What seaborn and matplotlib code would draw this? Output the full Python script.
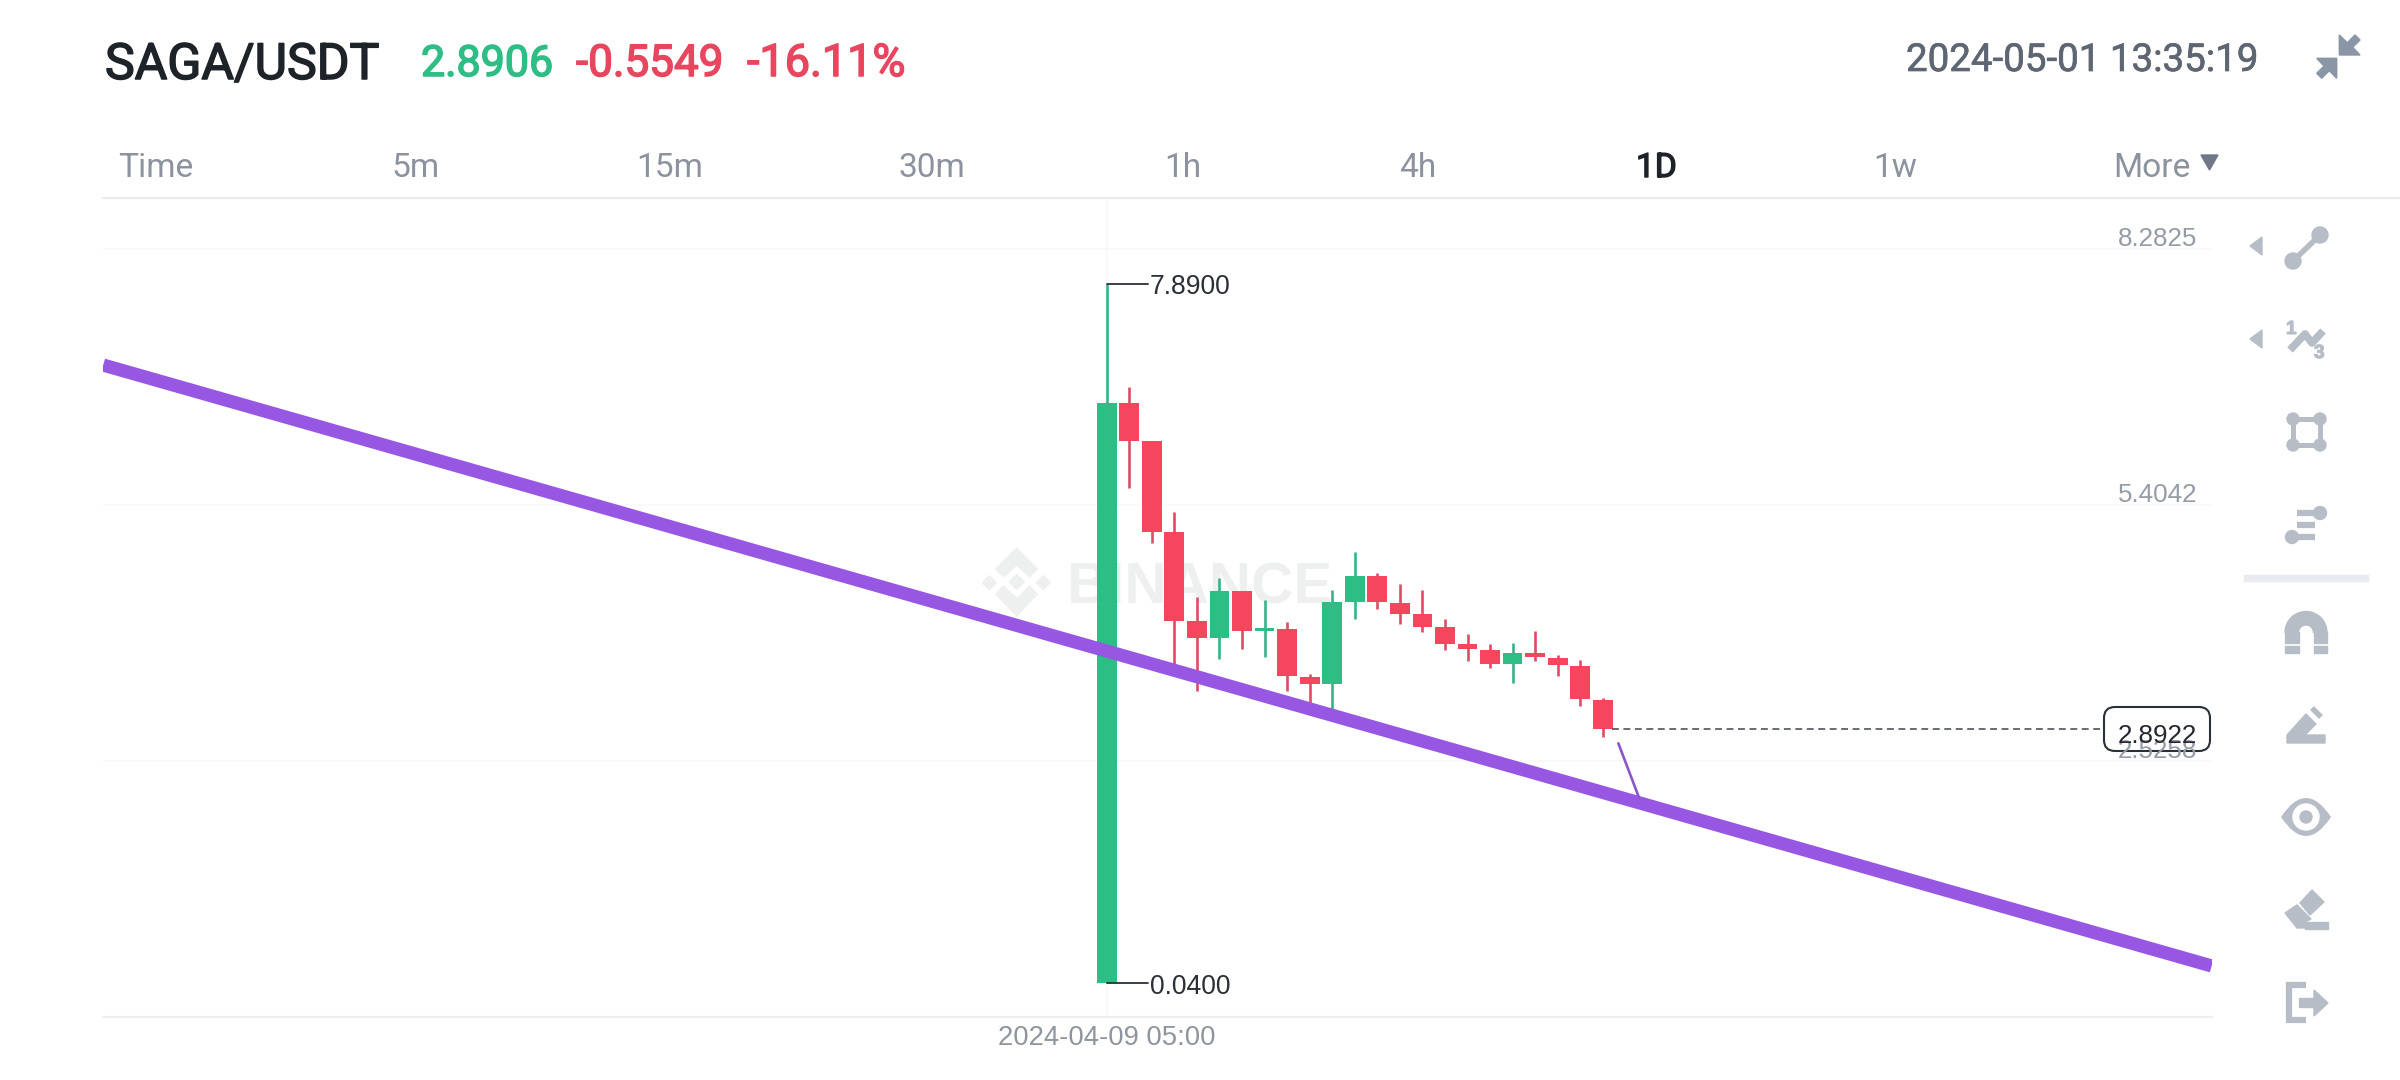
import matplotlib
matplotlib.use("Agg")
import matplotlib.patheffects as pe
import matplotlib.pyplot as plt
from matplotlib.patches import Circle, FancyBboxPatch, PathPatch, Polygon, Rectangle, Wedge
from matplotlib.path import Path
import pandas as pd
import seaborn as sns

# Candle data
opens = [0.04, 6.557, 6.13, 5.10, 4.104, 3.909, 4.441, 3.995, 4.018, 3.478, 3.392, 4.321,
         4.61, 4.310, 4.179, 4.033, 3.842, 3.778, 3.625, 3.741, 3.688, 3.602, 3.213]
closes = [6.557, 6.13, 5.10, 4.104, 3.909, 4.441, 3.995, 4.021, 3.482, 3.392, 4.314, 4.609,
          4.318, 4.187, 4.040, 3.846, 3.790, 3.625, 3.741, 3.696, 3.610, 3.224, 2.894]
highs = [7.89, 6.737, 6.13, 5.329, 4.377, 4.583, 4.441, 4.34, 4.089, 3.505, 4.452, 4.883,
         4.640, 4.516, 4.449, 4.123, 3.958, 3.846, 3.861, 3.996, 3.722, 3.662, 3.235]
lows = [0.04, 5.595, 4.976, 3.609, 3.321, 3.681, 3.785, 3.703, 3.321, 3.179, 3.104, 4.123,
        4.235, 4.067, 3.981, 3.775, 3.655, 3.580, 3.404, 3.658, 3.490, 3.153, 2.805]

# Drawn lines, as candle index and price
trend_x = [-44.5, 49.0]
trend_y = [6.98, 0.228]
stub_x = [22.69, 23.6]
stub_y = [2.73, 2.123]
last_x = [22.4, 44.2]
last_y = [2.8922, 2.8922]

grid_prices = [8.2825, 5.4042, 2.5258]
grid_labels = ["8.2825", "5.4042", "2.5258"]
tabs = ["Time", "5m", "15m", "30m", "1h", "4h", "1D", "1w", "More"]
tab_x = [118, 391, 636, 898, 1164, 1399, 1636, 1873, 2113]

GREEN = "#2EBD85"
RED = "#F6465D"
HEAD_RED = "#E8455F"
PURPLE = "#9757E3"
ICON = "#B7BDC6"
GREY = "#8C939F"
DARK = "#1E2329"
FAINT = "#F8F8F8"
WATERMARK = "#EEF0F0"


def px(size):
    # font sizes are worked out in image pixels
    return size * 0.72


sns.set_theme(style="white")
plt.rcParams["font.family"] = ["Liberation Sans", "DejaVu Sans"]

fig = plt.figure(figsize=(24, 10.8), dpi=100, facecolor="white")


def pixel_axes(zorder):
    # full size axes in image pixels, y pointing down
    a = fig.add_axes([0, 0, 1, 1], facecolor="none", zorder=zorder)
    a.set_xlim(0, 2400)
    a.set_ylim(1080, 0)
    a.axis("off")
    return a


back = pixel_axes(1)
ui = pixel_axes(5)

# price chart, scale taken from 7.89 at y=284 and 0.04 at y=983, candle pitch 22.55 px
ax = fig.add_axes([103 / 2400, 1 - 1017 / 1080, (2212 - 103) / 2400, (1017 - 198) / 1080],
                  facecolor="none", zorder=2)
ax.set_xlim((103 - 1106.7) / 22.55, (2212 - 1106.7) / 22.55)
ax.set_ylim(0.04 + (982.7 - 1017) / 89, 0.04 + (982.7 - 198) / 89)
ax.set_xticks([])
ax.set_yticks([])
sns.despine(ax=ax, left=True, bottom=True, top=True, right=True)

for price in grid_prices:
    ax.axhline(price, color=FAINT, lw=1.1, zorder=1)
ax.axvline(0, color=FAINT, lw=1.1, zorder=1)

df = pd.DataFrame({"open": opens, "close": closes, "high": highs, "low": lows})
df["idx"] = range(len(df))
df["up"] = df["close"] >= df["open"]
df["color"] = df["up"].map({True: GREEN, False: RED})
df["wick"] = df["up"].map({True: "#36B38A", False: "#E04C65"})

ax.vlines(df["idx"], df["low"], df["high"], colors=df["wick"], lw=1.9, zorder=3)
ax.bar(df["idx"], (df["close"] - df["open"]).abs(), bottom=df[["open", "close"]].min(axis=1),
       width=0.874, color=df["color"], linewidth=0, zorder=4)

sns.lineplot(x=last_x, y=last_y, ax=ax, color="#3F444D", lw=1.1, linestyle=(0, (4.5, 3)), zorder=5)
sns.lineplot(x=trend_x, y=trend_y, ax=ax, color=PURPLE, lw=9.5, solid_capstyle="butt", zorder=6)
sns.lineplot(x=stub_x, y=stub_y, ax=ax, color="#8A56C9", lw=1.9, zorder=6)


def text(x, y, s, size, color, font="Liberation Sans", ha="left", weight="normal", stroke=0, target=None):
    t = (target or ui).text(x, y, s, fontsize=px(size), color=color, family=font, ha=ha, va="baseline",
                            weight=weight, zorder=10)
    if stroke:
        t.set_path_effects([pe.withStroke(linewidth=stroke, foreground=color)])


def price_y(price):
    return 982.7 - (price - 0.04) * 89


# watermark, under the candles
text(1066, 603, "BINANCE", 58.5, WATERMARK, weight="bold", target=back)
for cx, cy, r in [(1016.7, 582, 7.5), (989.3, 582.7, 7), (1043.3, 582.7, 7)]:
    back.add_patch(Polygon([(cx - r, cy), (cx, cy - r), (cx + r, cy), (cx, cy + r)], color=WATERMARK))
back.add_patch(Polygon([(1016.7, 548.3), (1037.3, 569), (1029.5, 577), (1016.7, 565), (1003.5, 577), (995.7, 569)],
                       color=WATERMARK))
back.add_patch(Polygon([(1016.7, 616), (1037.3, 594), (1029.5, 586), (1016.7, 598.5), (1003.5, 586), (995.7, 594)],
                       color=WATERMARK))

# header
text(105, 79, "SAGA/USDT", 50, DARK, font="Roboto", stroke=1.1)
text(421, 76, "2.8906", 43, GREEN, font="Roboto", stroke=1.1)
text(576, 76, "-0.5549", 44, HEAD_RED, font="Roboto", stroke=1.1)
text(747, 76, "-16.11%", 45, HEAD_RED, font="Roboto", stroke=1.1)
text(1906, 71, "2024-05-01 13:35:19", 38.5, "#5E6673", font="Roboto", stroke=0.5)
ui.add_patch(Polygon([(2339.3, 35), (2339.3, 55), (2360, 55), (2352.7, 47.3), (2360, 40), (2355, 35), (2347.3, 42.7)],
                     color="#8896A6"))
ui.add_patch(Polygon([(2316.7, 58.3), (2336.7, 58.3), (2336.7, 78.3), (2329.3, 70.7), (2321.7, 78.3), (2316.7, 73.3),
                      (2324, 66)], color="#8896A6"))

# interval tabs
for x, label in zip(tab_x, tabs):
    if label == "1D":
        text(x, 177, label, 33.5, DARK, font="Roboto", stroke=1.0)
    else:
        text(x, 177, label, 33.5, GREY, font="Roboto")
ui.add_patch(Polygon([(2201, 155), (2218, 155), (2209.5, 170)], color="#6F7886"))
ui.plot([103, 2400], [197.5, 197.5], color="#EAECEF", lw=1.6)
ui.plot([103, 2212], [1017, 1017], color="#EFEFF1", lw=1.6)

# price labels
for price, label in zip(grid_prices, grid_labels):
    text(2197, price_y(price) - 3.5, label, 26, "#969CA6", ha="right")

text(1150, 294, "7.8900", 26.5, "#2B2F36")
text(1150, 994, "0.0400", 26.5, "#2B2F36")
ui.plot([1107, 1148], [284, 284], color="#2B2F36", lw=1.3)
ui.plot([1107, 1148], [983, 983], color="#2B2F36", lw=1.3)
text(998, 1045, "2024-04-09 05:00", 27.5, "#8F959E")

box = FancyBboxPatch((2104, 707), 106, 44, boxstyle="round,pad=0,rounding_size=11",
                     fc="white", ec="#2B2F36", lw=1.5, zorder=8)
ui.add_patch(box)
text(2197, 743, "2.8922", 26, "#23272E", ha="right")

# toolbar icons
for y in (246, 339):
    ui.add_patch(Polygon([(2250, y), (2262, y - 9), (2262, y + 9)], color=ICON))

ui.plot([2293, 2320], [261, 235], color=ICON, lw=4)
ui.add_patch(Circle((2293, 261), 8, color=ICON))
ui.add_patch(Circle((2320, 235), 8, color=ICON))

ui.plot([2290, 2305, 2312, 2323], [350, 334, 343, 331], color=ICON, lw=5.5, solid_capstyle="butt")
text(2286, 334, "1", 19, ICON, weight="bold", stroke=0.8)
text(2314, 358, "3", 19, ICON, weight="bold", stroke=0.8)

ui.add_patch(Rectangle((2293, 419), 27, 26, fill=False, ec=ICON, lw=3.6))
for cx, cy in [(2293, 419), (2320, 419), (2293, 445), (2320, 445)]:
    ui.add_patch(Circle((cx, cy), 6, color=ICON))

ui.plot([2297, 2320], [513, 513], color=ICON, lw=4.5, solid_capstyle="butt")
ui.plot([2297, 2315], [525, 525], color=ICON, lw=4.5, solid_capstyle="butt")
ui.plot([2292, 2315], [537, 537], color=ICON, lw=4.5, solid_capstyle="butt")
ui.add_patch(Circle((2320, 513), 6.5, color=ICON))
ui.add_patch(Circle((2292, 537), 6.5, color=ICON))

ui.add_patch(Rectangle((2244, 575), 124, 5.5, color="#E9EBF0"))

ui.add_patch(Wedge((2306, 632.5), 21, 180, 360, width=13.5, color=ICON))
ui.add_patch(Rectangle((2285, 632), 13.5, 11, color=ICON))
ui.add_patch(Rectangle((2313.5, 632), 13.5, 11, color=ICON))
ui.add_patch(Rectangle((2285, 646), 13.5, 7, color=ICON))
ui.add_patch(Rectangle((2313.5, 646), 13.5, 7, color=ICON))

ui.add_patch(Polygon([(2287, 735), (2306, 714), (2316, 724), (2305, 735), (2325, 735), (2325, 743), (2287, 743)],
                     color=ICON))
ui.plot([2312, 2321], [708, 717], color=ICON, lw=4, solid_capstyle="butt")

eye = Path([(2281, 817), (2306, 779), (2331, 817), (2306, 855), (2281, 817)],
           [Path.MOVETO, Path.CURVE3, Path.CURVE3, Path.CURVE3, Path.CURVE3])
ui.add_patch(PathPatch(eye, fc=ICON, ec="none"))
ui.add_patch(Circle((2306, 817), 13, color="white"))
ui.add_patch(Circle((2306, 817), 6, color=ICON))

ui.add_patch(Polygon([(2312, 890), (2324, 902), (2310, 915), (2300, 903)], color=ICON))
ui.add_patch(Polygon([(2285, 913), (2297, 905), (2311, 919), (2305, 922), (2305, 928), (2297, 928)], color=ICON))
ui.add_patch(Rectangle((2305, 922), 23, 6.5, color=ICON))

ui.plot([2306, 2289, 2289, 2306], [985, 985, 1020, 1020], color=ICON, lw=4.5, solid_joinstyle="miter",
        solid_capstyle="butt")
ui.add_patch(Rectangle((2299, 998), 16, 9, color=ICON))
ui.add_patch(Polygon([(2314, 990), (2328, 1003), (2314, 1016)], color=ICON))

fig.savefig("out.png", dpi=100, facecolor="white")
